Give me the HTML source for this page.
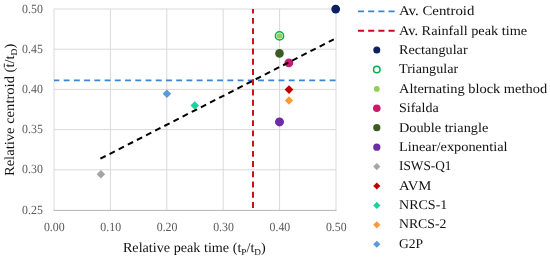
<!DOCTYPE html><html><head><meta charset="utf-8"><style>html,body{margin:0;padding:0;background:#fff;width:550px;height:260px;overflow:hidden}svg{display:block}</style></head><body><svg width="550" height="260" viewBox="0 0 550 260" text-rendering="geometricPrecision">
<rect width="550" height="260" fill="#fff"/>
<g stroke="#D9D9D9" stroke-width="1"><line x1="54.0" y1="9" x2="54.0" y2="210"/><line x1="110.4" y1="9" x2="110.4" y2="210"/><line x1="166.8" y1="9" x2="166.8" y2="210"/><line x1="223.2" y1="9" x2="223.2" y2="210"/><line x1="279.6" y1="9" x2="279.6" y2="210"/><line x1="336.0" y1="9" x2="336.0" y2="210"/><line x1="54" y1="9.0" x2="336" y2="9.0"/><line x1="54" y1="49.2" x2="336" y2="49.2"/><line x1="54" y1="89.4" x2="336" y2="89.4"/><line x1="54" y1="129.6" x2="336" y2="129.6"/><line x1="54" y1="169.8" x2="336" y2="169.8"/></g>
<line x1="53.5" y1="210.4" x2="336.5" y2="210.4" stroke="#B4B4B4" stroke-width="1"/>
<defs><clipPath id="pc"><rect x="54" y="9" width="282" height="201"/></clipPath></defs>
<g clip-path="url(#pc)"><line x1="53.45" y1="80.4" x2="336" y2="80.4" stroke="#3A85D6" stroke-width="1.75" stroke-dasharray="5.9 4.33"/>
<line x1="253" y1="7.67" x2="253" y2="210" stroke="#CF0A18" stroke-width="1.95" stroke-dasharray="5.9 4.33"/></g>
<circle cx="335.70" cy="9.10" r="4.4" fill="#0B2161"/><circle cx="279.50" cy="35.90" r="4.1" fill="#fff" stroke="#00B050" stroke-width="1.6"/><circle cx="279.50" cy="35.90" r="2.75" fill="#92D050"/><circle cx="288.90" cy="62.80" r="4.4" fill="#C71B6E"/><circle cx="279.50" cy="53.40" r="4.3" fill="#3A5B24"/><circle cx="279.50" cy="121.90" r="4.5" fill="#6E2CA8"/><path d="M100.90 169.90L105.20 174.20L100.90 178.50L96.60 174.20Z" fill="#A5A5A5"/><path d="M289.00 85.20L293.40 89.60L289.00 94.00L284.60 89.60Z" fill="#C00000"/><path d="M194.80 101.20L199.10 105.50L194.80 109.80L190.50 105.50Z" fill="#1FCF9C"/><path d="M289.00 96.30L293.20 100.50L289.00 104.70L284.80 100.50Z" fill="#FF9A3C"/><path d="M166.90 89.40L171.20 93.70L166.90 98.00L162.60 93.70Z" fill="#5B9BD5"/>
<line x1="100.4" y1="158.7" x2="333.8" y2="39.3" stroke="#000" stroke-width="2.0" stroke-dasharray="5.9 4.36"/>
<g font-family="'Liberation Serif', serif" font-size="12.5" fill="#595959"><text x="42.8" y="12.6" text-anchor="end" textLength="20.7" lengthAdjust="spacingAndGlyphs">0.50</text><text x="42.8" y="52.8" text-anchor="end" textLength="20.7" lengthAdjust="spacingAndGlyphs">0.45</text><text x="42.8" y="93.0" text-anchor="end" textLength="20.7" lengthAdjust="spacingAndGlyphs">0.40</text><text x="42.8" y="133.2" text-anchor="end" textLength="20.7" lengthAdjust="spacingAndGlyphs">0.35</text><text x="42.8" y="173.4" text-anchor="end" textLength="20.7" lengthAdjust="spacingAndGlyphs">0.30</text><text x="42.8" y="213.6" text-anchor="end" textLength="20.7" lengthAdjust="spacingAndGlyphs">0.25</text><text x="54.3" y="231.3" text-anchor="middle" textLength="20.7" lengthAdjust="spacingAndGlyphs">0.00</text><text x="110.7" y="231.3" text-anchor="middle" textLength="20.7" lengthAdjust="spacingAndGlyphs">0.10</text><text x="167.1" y="231.3" text-anchor="middle" textLength="20.7" lengthAdjust="spacingAndGlyphs">0.20</text><text x="223.5" y="231.3" text-anchor="middle" textLength="20.7" lengthAdjust="spacingAndGlyphs">0.30</text><text x="279.9" y="231.3" text-anchor="middle" textLength="20.7" lengthAdjust="spacingAndGlyphs">0.40</text><text x="336.3" y="231.3" text-anchor="middle" textLength="20.7" lengthAdjust="spacingAndGlyphs">0.50</text></g>
<text x="122.90000000000002" y="251.9" font-family="'Liberation Serif', serif" font-size="13.8" fill="#111" textLength="142.89" lengthAdjust="spacingAndGlyphs">Relative peak time (t<tspan font-size="9" dy="3">P</tspan><tspan dy="-3">/t</tspan><tspan font-size="9" dy="3">D</tspan><tspan dy="-3">)</tspan></text>
<g transform="translate(14.4,176.10000000000005) rotate(-90)"><text x="0" y="0" font-family="'Liberation Serif', serif" font-size="13.8" fill="#111" textLength="132.45" lengthAdjust="spacingAndGlyphs">Relative centroid (t/t<tspan font-size="9" dy="3">D</tspan><tspan dy="-3">)</tspan></text><line x1="108.7" y1="-10.1" x2="112.6" y2="-10.1" stroke="#111" stroke-width="0.9"/></g>
<g font-family="'Liberation Serif', serif" font-size="13.4" fill="#111"><text x="399.0" y="15.40" textLength="75.38" lengthAdjust="spacingAndGlyphs">Av. Centroid</text><text x="399.0" y="34.75" textLength="128.10" lengthAdjust="spacingAndGlyphs">Av. Rainfall peak time</text><text x="399.0" y="54.10" textLength="68.63" lengthAdjust="spacingAndGlyphs">Rectangular</text><text x="399.0" y="73.45" textLength="59.18" lengthAdjust="spacingAndGlyphs">Triangular</text><text x="399.0" y="92.80" textLength="148.10" lengthAdjust="spacingAndGlyphs">Alternating block method</text><text x="399.0" y="112.15" textLength="39.72" lengthAdjust="spacingAndGlyphs">Sifalda</text><text x="399.0" y="131.50" textLength="89.30" lengthAdjust="spacingAndGlyphs">Double triangle</text><text x="399.0" y="150.85" textLength="108.56" lengthAdjust="spacingAndGlyphs">Linear/exponential</text><text x="399.0" y="170.20" textLength="52.51" lengthAdjust="spacingAndGlyphs">ISWS-Q1</text><text x="399.0" y="189.55" textLength="32.44" lengthAdjust="spacingAndGlyphs">AVM</text><text x="399.0" y="208.90" textLength="48.36" lengthAdjust="spacingAndGlyphs">NRCS-1</text><text x="399.0" y="228.25" textLength="47.43" lengthAdjust="spacingAndGlyphs">NRCS-2</text><text x="399.0" y="247.60" textLength="24.11" lengthAdjust="spacingAndGlyphs">G2P</text></g>
<line x1="357.95" y1="11.4" x2="395" y2="11.4" stroke="#3A85D6" stroke-width="1.6" stroke-dasharray="6.1 4.1"/><line x1="357.95" y1="30.75" x2="395" y2="30.75" stroke="#CF0A18" stroke-width="1.8" stroke-dasharray="6.1 4.1"/><circle cx="376.80" cy="50.04" r="3.5" fill="#0B2161"/><circle cx="376.80" cy="69.46" r="3.25" fill="#fff" stroke="#00B050" stroke-width="1.5"/><circle cx="376.80" cy="88.88" r="2.9" fill="#92D050"/><circle cx="376.80" cy="108.30" r="3.8" fill="#C71B6E"/><circle cx="376.80" cy="127.72" r="3.6" fill="#3A5B24"/><circle cx="376.80" cy="147.14" r="3.6" fill="#6E2CA8"/><path d="M376.80 162.96L380.40 166.56L376.80 170.16L373.20 166.56Z" fill="#A5A5A5"/><path d="M376.80 182.38L380.40 185.98L376.80 189.58L373.20 185.98Z" fill="#C00000"/><path d="M376.80 201.80L380.40 205.40L376.80 209.00L373.20 205.40Z" fill="#1FCF9C"/><path d="M376.80 221.22L380.40 224.82L376.80 228.42L373.20 224.82Z" fill="#FF9A3C"/><path d="M376.80 240.64L380.40 244.24L376.80 247.84L373.20 244.24Z" fill="#5B9BD5"/>
</svg></body></html>
